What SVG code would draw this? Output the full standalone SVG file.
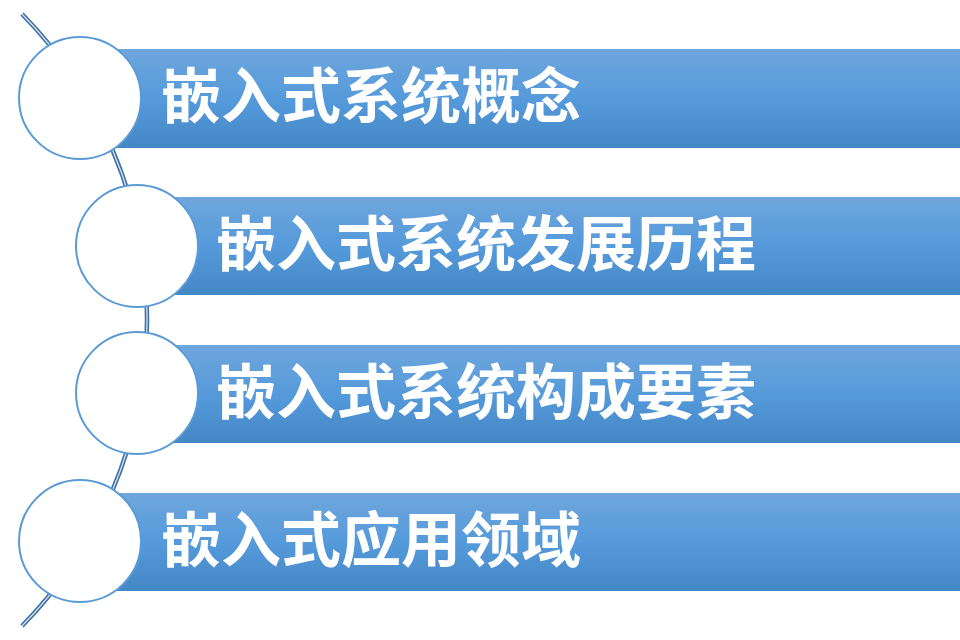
<svg xmlns="http://www.w3.org/2000/svg" width="960" height="640" viewBox="0 0 960 640">
  <defs>
    <linearGradient id="barGrad" x1="0" y1="0" x2="0" y2="1">
      <stop offset="0" stop-color="#6fa6dc"/>
      <stop offset="0.5" stop-color="#559adb"/>
      <stop offset="1" stop-color="#4487c6"/>
    </linearGradient>
    <style>
      .bar { fill: url(#barGrad); }
      .ring { fill: #ffffff; stroke: #5b9bd5; stroke-width: 2; }
      .label { fill: #ffffff; font-family: "Noto Sans CJK SC", "Noto Sans", sans-serif; font-weight: 700; font-size: 60px; }
      .arcOuter { fill: none; stroke: #3f72a3; stroke-width: 4.5; }
      .arcInner { fill: none; stroke: #d6e3f2; stroke-width: 1.3; }
    </style>
  </defs>
  <rect width="960" height="640" fill="#ffffff"/>
  <g id="connectors">
    <path class="arcOuter" d="M22,14 A437,437 0 0 1 22,626"/>
    <path class="arcInner" d="M22,14 A437,437 0 0 1 22,626"/>
  </g>
  <g id="node1">
    <rect class="bar" x="80" y="49" width="880" height="99"/>
    <circle class="ring" cx="80" cy="98" r="61"/>
    <text class="label" x="161" y="118">嵌入式系统概念</text>
  </g>
  <g id="node2">
    <rect class="bar" x="137" y="197" width="823" height="98"/>
    <circle class="ring" cx="137" cy="246" r="61"/>
    <text class="label" x="216" y="266">嵌入式系统发展历程</text>
  </g>
  <g id="node3">
    <rect class="bar" x="137" y="345" width="823" height="98"/>
    <circle class="ring" cx="137" cy="393" r="61"/>
    <text class="label" x="216" y="414">嵌入式系统构成要素</text>
  </g>
  <g id="node4">
    <rect class="bar" x="80" y="493" width="880" height="98"/>
    <circle class="ring" cx="80" cy="541" r="61"/>
    <text class="label" x="161" y="562">嵌入式应用领域</text>
  </g>
</svg>
